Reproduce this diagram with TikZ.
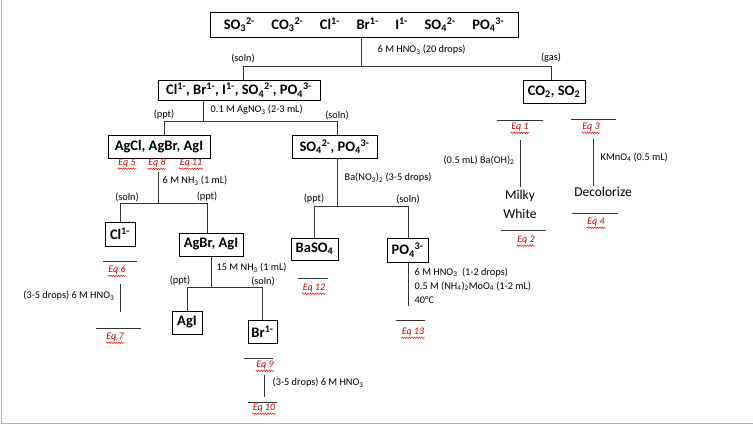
\documentclass[tikz,border=0pt]{standalone}
\usepackage{fontspec}
\setmainfont{Carlito}
\usetikzlibrary{decorations.pathmorphing}
\definecolor{eqred}{RGB}{192,0,0}
\newcommand\lo[1]{\textsubscript{#1}}
\newcommand\hi[1]{\textsuperscript{#1}}
\begin{document}
\begin{tikzpicture}[x=1pt,y=-1pt,
  box/.style={draw,line width=0.8pt,font=\bfseries\fontsize{14.5}{16}\selectfont,inner sep=2pt,minimum height=20pt},
  lbl/.style={font=\fontsize{10.3}{12}\selectfont,inner sep=0.5pt},
  big/.style={font=\fontsize{13.5}{19}\selectfont,inner sep=0.5pt,align=center},
  eq/.style={font=\itshape\fontsize{10}{12}\selectfont,text=eqred,inner sep=0.5pt,
    append after command={\pgfextra{\draw[red,line width=0.5pt,decorate,decoration={snake,amplitude=0.7pt,segment length=2.5pt}]
      ([yshift=-1pt]\tikzlastnode.south west) -- ([yshift=-1pt]\tikzlastnode.south east);}}},
  ln/.style={line width=0.8pt,draw=black!80}]
\useasboundingbox (0,0) rectangle (753,426);
\draw[black!30,line width=1pt] (1,0) -- (1,423) -- (753,423);
% top
\node[box,minimum width=308pt,minimum height=25pt] (top) at (364,24.5) {SO\lo{3}\hi{2-}\hspace{1.15em}CO\lo{3}\hi{2-}\hspace{1.15em}Cl\hi{1-}\hspace{1.15em}Br\hi{1-}\hspace{1.15em}I\hi{1-}\hspace{1.15em}SO\lo{4}\hi{2-}\hspace{1.15em}PO\lo{4}\hi{3-}};
\coordinate (j1) at (361,66);
\draw[ln] (top.south -| j1) -- (j1);
\node[lbl,anchor=west] (l1) at (377,50) {6 M HNO\lo{3} (20 drops)};
\draw[ln] (243,66) -- (551,66);
\node[lbl] (s1) at (243,58) {(soln)};
\node[lbl] (g1) at (551,58) {(gas)};
\node[box,minimum width=162pt] (b2) at (239,90) {Cl\hi{1-}, Br\hi{1-}, I\hi{1-}, SO\lo{4}\hi{2-}, PO\lo{4}\hi{3-}};
\node[box,minimum width=62pt,minimum height=23pt] (co) at (554,91.5) {CO\lo{2}, SO\lo{2}};
\draw[ln] (243,66) -- (b2.north -| 243,0);
\draw[ln] (551,66) -- (co.north -| 551,0);
% AgNO3
\coordinate (j2) at (203,121);
\draw[ln] (b2.south -| j2) -- (j2);
\node[lbl,anchor=west] (l2) at (210,110) {0.1 M AgNO\lo{3} (2-3 mL)};
\draw[ln] (164,121) -- (337,121);
\node[lbl] (p2) at (164,115) {(ppt)};
\node[lbl] (s2) at (337,115) {(soln)};
\node[box,minimum width=102pt,minimum height=23pt] (ag) at (159,146.5) {AgCl, AgBr, AgI};
\node[box,minimum width=85pt,minimum height=23pt] (sp) at (334.5,146.5) {SO\lo{4}\hi{2-}, PO\lo{4}\hi{3-}};
\draw[ln] (164,121) -- (ag.north -| 164,0);
\draw[ln] (337,121) -- (sp.north -| 337,0);
\node[eq] (e5) at (127,163) {Eq 5};
\node[eq] (e8) at (157,163) {Eq 8};
\node[eq] (e11) at (191,163) {Eq 11};
% NH3
\coordinate (j3) at (158,203);
\draw[ln] (158,172) -- (j3);
\node[lbl,anchor=west] (l3) at (162,181) {6 M NH\lo{3} (1 mL)};
\draw[ln] (120,203) -- (207,203);
\node[lbl] (s3) at (127,197) {(soln)};
\node[lbl] (p3) at (207,197) {(ppt)};
\node[box,minimum width=30pt,minimum height=24pt] (cl) at (120,234) {Cl\hi{1-}};
\node[box,minimum width=64pt,minimum height=23pt] (ab) at (211,244.5) {AgBr, AgI};
\draw[ln] (120,203) -- (cl.north);
\draw[ln] (207,203) -- (ab.north -| 207,0);
\draw[ln] (103,261) -- (137,261);
\node[eq] (e6) at (117,270) {Eq 6};
\coordinate (c6a) at (120,284); \coordinate (c6b) at (120,312);
\draw[ln] (c6a) -- (c6b);
\node[lbl,anchor=east] (l6) at (115,296) {(3-5 drops) 6 M HNO\lo{3}};
\draw[ln] (96,328) -- (141,328);
\node[eq] (e7) at (115,337) {Eq 7};
% 15M NH3
\coordinate (j4) at (211,287);
\draw[ln] (ab.south) -- (j4);
\node[lbl,anchor=west] (l4) at (216,268) {15 M NH\lo{3} (1 mL)};
\draw[ln] (187,287) -- (262,287);
\node[lbl] (p4) at (180,281) {(ppt)};
\node[lbl] (s4) at (263,281) {(soln)};
\node[box,minimum width=30pt,minimum height=23pt] (agi) at (187,322.5) {AgI};
\node[box,minimum width=29pt,minimum height=23pt] (br) at (262.5,331.5) {Br\hi{1-}};
\draw[ln] (187,287) -- (agi.north);
\draw[ln] (262,287) -- (br.north -| 262,0);
\draw[ln] (244,358) -- (273,358);
\node[eq] (e9) at (265,365) {Eq 9};
\coordinate (c9a) at (264,375); \coordinate (c9b) at (264,397);
\draw[ln] (c9a) -- (c9b);
\node[lbl,anchor=west] (l9) at (272,383) {(3-5 drops) 6 M HNO\lo{3}};
\draw[ln] (248,402) -- (277,402);
\node[eq] (e10) at (264,408) {Eq 10};
% Ba(NO3)2
\coordinate (j5) at (337,206);
\draw[ln] (sp.south -| j5) -- (j5);
\node[lbl,anchor=west] (l5) at (344,178) {Ba(NO\lo{3})\lo{2} (3-5 drops)};
\draw[ln] (314,206) -- (408,206);
\node[lbl] (p5) at (314,199) {(ppt)};
\node[lbl] (s5) at (408,199) {(soln)};
\node[box,minimum width=47pt,minimum height=22pt] (ba) at (314.5,249) {BaSO\lo{4}};
\node[box,minimum width=41pt,minimum height=24pt] (po) at (407.5,250) {PO\lo{4}\hi{3-}};
\draw[ln] (314,206) -- (ba.north -| 314,0);
\draw[ln] (408,206) -- (po.north -| 408,0);
\draw[ln] (298,278) -- (328,278);
\node[eq] (e12) at (314,288) {Eq 12};
\coordinate (c13) at (408,306);
\draw[ln] (po.south -| c13) -- (c13);
\node[lbl,anchor=north west,align=left,font=\fontsize{10.3}{14}\selectfont] (l13) at (414,267) {6 M HNO\lo{3}\ \ (1-2 drops)\\0.5 M (NH\lo{4})\lo{2}MoO\lo{4} (1-2 mL)\\40°C};
\draw[ln] (396,320) -- (425,320);
\node[eq] (e13) at (413,332) {Eq 13};
% right side
\draw[ln] (497,120) -- (543,120);
\node[eq] (e1) at (520,127) {Eq 1};
\coordinate (r1a) at (520,140); \coordinate (r1b) at (520,187);
\draw[ln] (r1a) -- (r1b);
\node[lbl,anchor=east] (lr1) at (515,160) {(0.5 mL) Ba(OH)\lo{2}};
\node[big] (mw) at (520,204) {Milky\\White};
\draw[ln] (501,230) -- (546,230);
\node[eq] (e2) at (526,240) {Eq 2};
\draw[ln] (571,119) -- (616,119);
\node[eq] (e3) at (591,127) {Eq 3};
\coordinate (r3a) at (593,139); \coordinate (r3b) at (593,186);
\draw[ln] (r3a) -- (r3b);
\node[lbl,anchor=west] (lr3) at (600,157) {KMnO\lo{4} (0.5 mL)};
\node[big] (dc) at (603,192) {Decolorize};
\draw[ln] (572,213) -- (618,213);
\node[eq] (e4) at (596,222) {Eq 4};
\end{tikzpicture}
\end{document}
